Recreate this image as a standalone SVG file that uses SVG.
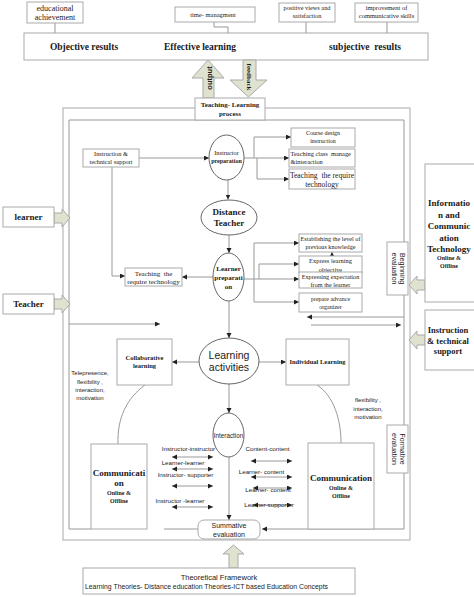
<svg xmlns="http://www.w3.org/2000/svg" width="474" height="597" viewBox="0 0 474 597">
<style>
.b{fill:#fff;stroke:#aaa;stroke-width:1}
.e{fill:#fff;stroke:#555;stroke-width:0.9}
.ln{fill:none;stroke:#999;stroke-width:1}
.ar{marker-end:url(#ah)}
.da{marker-start:url(#ah);marker-end:url(#ah)}
.blk{fill:#dfe2cf;stroke:#aaa;stroke-width:1}
text{fill:#1a1a1a}
.s{font-family:"Liberation Serif",serif}
.ss{font-family:"Liberation Sans",Arial,sans-serif}
.bd{font-weight:bold}
.m{text-anchor:middle}
</style>
<defs>
<marker id="ah" markerUnits="userSpaceOnUse" markerWidth="6" markerHeight="6" refX="5" refY="2.5" orient="auto-start-reverse">
<path d="M0,0 L5,2.5 L0,5 z" fill="#222"/>
</marker>
</defs>

<!-- frames -->
<g id="frames">
<rect x="63" y="108" width="347" height="432" fill="none" stroke="#aaa"/>
<path class="ln" d="M91,529 H69 V120 H404 V529 H262" style="marker-end:url(#ah)"/>
<path class="ln" d="M164,529 H198"/>
</g>

<!-- connectors -->
<g id="connectors">
<path class="ln" d="M55,23 V33"/>
<path class="ln" d="M214,22 V27 H228 V33"/>
<path class="ln" d="M306,22 V33"/>
<path class="ln" d="M387,22 V33"/>
<path class="ln ar" d="M139,158 H209"/>
<path class="ln ar" d="M112,167 V276 H125"/>
<path class="ln ar" d="M244,158 H289"/>
<path class="ln ar" d="M254,158 V137 H291"/>
<path class="ln ar" d="M257,158 V179 H289"/>
<path class="ln ar" d="M228,180 V199.5"/>
<path class="ln ar" d="M229,235 V253"/>
<path class="ln ar" d="M213,277 H182"/>
<path class="ln ar" d="M254,243 H299"/>
<path class="ln" d="M254,243 V302"/>
<path class="ln ar" d="M254,302 H299"/>
<path class="ln ar" d="M244,279 H299"/>
<path class="ln ar" d="M259,279 V264 H299"/>
<path class="ln ar" d="M332,257 V252"/>
<path class="ln ar" d="M229,301 V338"/>
<path class="ln ar" d="M404,317 H307"/>
<path class="ln ar" d="M311,325 H401"/>
<path class="ln ar" d="M69,324 H160"/>
<path class="ln ar" d="M199,362 H172"/>
<path class="ln ar" d="M259,362 H286"/>
<path class="ln ar" d="M229,384 V413"/>
<path class="ln ar" d="M229,457 V520"/>
<path class="ln" d="M145,385 C127,398 117,418 118,444"/>
<path class="ln" d="M317,385 C334,396 341,420 341,443"/>
<path class="ln da" d="M172,457 H213"/>
<path class="ln da" d="M172,469 H213"/>
<path class="ln da" d="M172,486 H213"/>
<path class="ln da" d="M172,507 H213"/>
<path class="ln da" d="M251,461 H292"/>
<path class="ln da" d="M251,477 H292"/>
<path class="ln da" d="M253,488 H292"/>
<path class="ln da" d="M253,505 H292"/>
<polygon class="blk" points="54,213 62,213 62,209 70,218 62,227 62,223 54,223"/>
<polygon class="blk" points="54,299 62,299 62,295 70,304 62,313 62,309 54,309"/>
<polygon class="blk" points="425,280 417,280 417,276 409,285 417,294 417,290 425,290"/>
<polygon class="blk" points="425,335 417,335 417,331 409,340 417,349 417,345 425,345"/>
<polygon class="blk" points="229,568 229,554 223,554 233.5,545 244,554 238,554 238,568"/>
</g>

<!-- top results -->
<g id="educational">
<rect class="b" x="27" y="2" width="56" height="21"/>
<text class="s m" x="55" y="11" font-size="8">educational</text>
<text class="s m" x="55" y="20" font-size="8">achievement</text>
</g>
<g id="time">
<rect class="b" x="175" y="7" width="80" height="15"/>
<text class="s m" x="213" y="17" font-size="6.5">time- managment</text>
</g>
<g id="positive">
<rect class="b" x="279" y="3" width="56" height="19"/>
<text class="s m" x="307" y="10" font-size="6.3">positive views and</text>
<text class="s m" x="307" y="18" font-size="6.3">satisfaction</text>
</g>
<g id="improvement">
<rect class="b" x="355" y="3" width="63" height="19"/>
<text class="s m" x="386.5" y="10" font-size="6.5">improvement of</text>
<text class="s m" x="386.5" y="18" font-size="6.5">communicative skills</text>
</g>
<g id="results">
<rect class="b" x="24" y="33" width="404" height="27"/>
<text class="s bd m" x="84" y="50" font-size="9.5">Objective results</text>
<text class="s bd m" x="200" y="50" font-size="9.5">Effective learning</text>
<text class="s bd m" x="365" y="50" font-size="9.5" xml:space="preserve">subjective  results</text>
</g>
<g id="output">
<polygon class="blk" points="203,98 203,78 192,78 208,60 224,78 214,78 214,98"/>
<text class="ss bd m" font-size="7.5" transform="translate(211.5,78) rotate(-90)">output</text>
</g>
<g id="feedback">
<polygon class="blk" points="243,60 256,60 256,80 267,80 248.5,97 230,80 243,80"/>
<text class="s bd m" font-size="7" transform="translate(246.5,77) rotate(90)">feedback</text>
</g>
<g id="process">
<rect class="b" x="195" y="98" width="70" height="22"/>
<text class="s bd m" x="230" y="107" font-size="7">Teaching- Learning</text>
<text class="s bd m" x="230" y="116" font-size="7">process</text>
</g>

<!-- side boxes -->
<g id="learner">
<rect class="b" x="3" y="207" width="51" height="20"/>
<text class="s bd m" x="28.5" y="220" font-size="9">learner</text>
</g>
<g id="teacher">
<rect class="b" x="3" y="294" width="51" height="20"/>
<text class="s bd m" x="28.5" y="307" font-size="9">Teacher</text>
</g>
<g id="ict">
<rect class="b" x="425" y="164" width="60" height="138"/>
<text class="s bd m" x="449" y="206" font-size="9">Informatio</text>
<text class="s bd m" x="449" y="217.5" font-size="9">n and</text>
<text class="s bd m" x="449" y="229" font-size="9">Communic</text>
<text class="s bd m" x="449" y="240.5" font-size="9">ation</text>
<text class="s bd m" x="449" y="252" font-size="9">Technology</text>
<text class="s bd m" x="449" y="260" font-size="6">Online &amp;</text>
<text class="s bd m" x="449" y="268" font-size="6">Offline</text>
</g>
<g id="support">
<rect class="b" x="425" y="310" width="60" height="60"/>
<text class="s bd m" x="448" y="333" font-size="8.5">Instruction</text>
<text class="s bd m" x="448" y="344" font-size="8.5">&amp; technical</text>
<text class="s bd m" x="448" y="354" font-size="8.5">support</text>
</g>
<g id="beginning">
<rect class="b" x="387" y="242" width="21" height="53"/>
<g transform="translate(399.5,268.5) rotate(90)">
<text class="ss m" x="0" y="0" font-size="7">Beginning</text>
<text class="ss m" x="0" y="7.5" font-size="7">evaluation</text>
</g>
</g>
<g id="formative">
<rect class="b" x="387" y="425" width="21" height="48"/>
<g transform="translate(399.5,449) rotate(90)">
<text class="ss m" x="0" y="0" font-size="7">Formative</text>
<text class="ss m" x="0" y="7.5" font-size="7">evaluation</text>
</g>
</g>

<!-- center -->
<g id="instsupport">
<rect class="b" x="83" y="149" width="56" height="18"/>
<text class="s m" x="111" y="156" font-size="6.3">Instruction &amp;</text>
<text class="s m" x="111" y="164" font-size="6.3">technical support</text>
</g>
<g id="instructorprep">
<ellipse class="e" cx="226.5" cy="157.5" rx="17.5" ry="22.5"/>
<text class="s m" x="226.5" y="155" font-size="6.3">Instructor</text>
<text class="s bd m" x="226.5" y="163" font-size="6">preparation</text>
</g>
<g id="coursedesign">
<rect class="b" x="291" y="128" width="64" height="19"/>
<text class="s m" x="323" y="135" font-size="6">Course design</text>
<text class="s m" x="323" y="143" font-size="6">instruction</text>
</g>
<g id="classmanage">
<rect class="b" x="289" y="149" width="66" height="18"/>
<text class="s" x="290.5" y="156" font-size="6.4" xml:space="preserve">Teaching class  manage</text>
<text class="s" x="290.5" y="164" font-size="6.4">&amp;interaction</text>
</g>
<g id="requiretech1">
<rect class="b" x="289" y="169" width="66" height="20"/>
<text class="s m" x="322" y="177.5" font-size="7.6" xml:space="preserve">Teaching  the require</text>
<text class="s m" x="322" y="186.5" font-size="7.6">technology</text>
</g>
<g id="distance">
<ellipse class="e" cx="229" cy="217.5" rx="28" ry="17.5"/>
<text class="s bd m" x="229" y="215" font-size="9">Distance</text>
<text class="s bd m" x="229" y="225.5" font-size="9">Teacher</text>
</g>
<g id="requiretech2">
<rect class="b" x="125" y="268" width="57" height="18"/>
<text class="s m" x="153.5" y="276" font-size="7" xml:space="preserve">Teaching  the</text>
<text class="s m" x="153.5" y="284" font-size="7">require technology</text>
</g>
<g id="learnerprep">
<ellipse class="e" cx="228.5" cy="277" rx="15.5" ry="24"/>
<text class="s bd m" x="228.5" y="270.5" font-size="7">Learner</text>
<text class="s bd m" x="228.5" y="280" font-size="7">preparati</text>
<text class="s bd m" x="228.5" y="288.5" font-size="7">on</text>
</g>
<g id="establishing">
<rect class="b" x="299" y="234" width="63" height="18"/>
<text class="s m" x="330.5" y="241" font-size="6.2">Establishing the level of</text>
<text class="s m" x="330.5" y="249" font-size="6.2">previous knowledge</text>
</g>
<g id="objective">
<rect class="b" x="299" y="256" width="63" height="17"/>
<text class="s m" x="330.5" y="263" font-size="6.4">Express learning</text>
<text class="s m" x="330.5" y="271.5" font-size="6.4">objective</text>
</g>
<g id="expectation">
<rect class="b" x="299" y="272" width="63" height="16"/>
<text class="s m" x="330.5" y="279" font-size="6.2">Expressing expectation</text>
<text class="s m" x="330.5" y="286.5" font-size="6.2">from the learner</text>
</g>
<g id="organizer">
<rect class="b" x="299" y="293" width="63" height="19"/>
<text class="s m" x="330.5" y="300.5" font-size="6">prepare advance</text>
<text class="s m" x="330.5" y="308.5" font-size="6">organizer</text>
</g>
<g id="activities">
<ellipse class="e" cx="229" cy="361" rx="30" ry="23"/>
<text class="ss m" x="229" y="359" font-size="10.5">Learning</text>
<text class="ss m" x="229" y="370.5" font-size="10.5">activities</text>
</g>
<g id="collaborative">
<rect class="b" x="117" y="339" width="55" height="46"/>
<text class="s bd m" x="144.5" y="360" font-size="6.5">Collaborative</text>
<text class="s bd m" x="144.5" y="368" font-size="6.5">learning</text>
</g>
<g id="individual">
<rect class="b" x="286" y="339" width="63" height="46"/>
<text class="s bd m" x="317.5" y="364" font-size="6.5">Individual Learning</text>
</g>
<g id="leftfactors">
<text class="ss m" x="90" y="375" font-size="6">Telepresence,</text>
<text class="ss m" x="90" y="383.5" font-size="6">flexibility ,</text>
<text class="ss m" x="90" y="392" font-size="6">interaction,</text>
<text class="ss m" x="90" y="400" font-size="6">motivation</text>
</g>
<g id="rightfactors">
<text class="ss m" x="368" y="402" font-size="6">flexibility ,</text>
<text class="ss m" x="368" y="410.5" font-size="6">interaction,</text>
<text class="ss m" x="368" y="419" font-size="6">motivation</text>
</g>
<g id="interaction">
<ellipse class="e" cx="228.5" cy="435" rx="15.5" ry="22"/>
<text class="ss m" x="228.5" y="437.5" font-size="6.3">Interaction</text>
</g>
<g id="interlabels">
<text class="ss m" x="188.5" y="450.5" font-size="6.2">Instructor-instructor</text>
<text class="ss m" x="183" y="464.5" font-size="6.2">Learner-learner</text>
<text class="ss m" x="185.5" y="476.5" font-size="6.2">Instructor- supporter</text>
<text class="ss m" x="180" y="502.5" font-size="6.2">Instructor -learner</text>
<text class="ss m" x="267.5" y="450.5" font-size="6.2">Content-content</text>
<text class="ss m" x="261.5" y="473.5" font-size="6.2">Learner- content</text>
<text class="ss m" x="268" y="491.5" font-size="6.2">Learner- content</text>
<text class="ss m" x="269" y="506.5" font-size="6.2">Learner-supporter</text>
</g>
<g id="commleft">
<rect class="b" x="91" y="444" width="56" height="85"/>
<text class="s bd m" x="119" y="476" font-size="9">Communicati</text>
<text class="s bd m" x="119" y="486" font-size="9">on</text>
<text class="s bd m" x="119" y="494.5" font-size="6">Online &amp;</text>
<text class="s bd m" x="119" y="502.5" font-size="6">Offline</text>
</g>
<g id="commright">
<rect class="b" x="308" y="443" width="66" height="86"/>
<text class="s bd m" x="341" y="481" font-size="9">Communication</text>
<text class="s bd m" x="341" y="490" font-size="6">Online &amp;</text>
<text class="s bd m" x="341" y="498" font-size="6">Offline</text>
</g>
<g id="summative">
<rect class="b" x="198" y="520" width="62" height="19" rx="6"/>
<text class="ss m" x="229" y="528" font-size="7">Summative</text>
<text class="ss m" x="229" y="536.5" font-size="7">evaluation</text>
</g>
<g id="framework">
<rect class="b" x="83" y="568" width="272" height="26"/>
<text class="ss m" x="219" y="579.5" font-size="7.5">Theoretical Framework</text>
<text class="ss" x="85" y="589" font-size="7.3" textLength="243" lengthAdjust="spacingAndGlyphs">Learning Theories- Distance education Theories-ICT based Education Concepts</text>
</g>
</svg>
